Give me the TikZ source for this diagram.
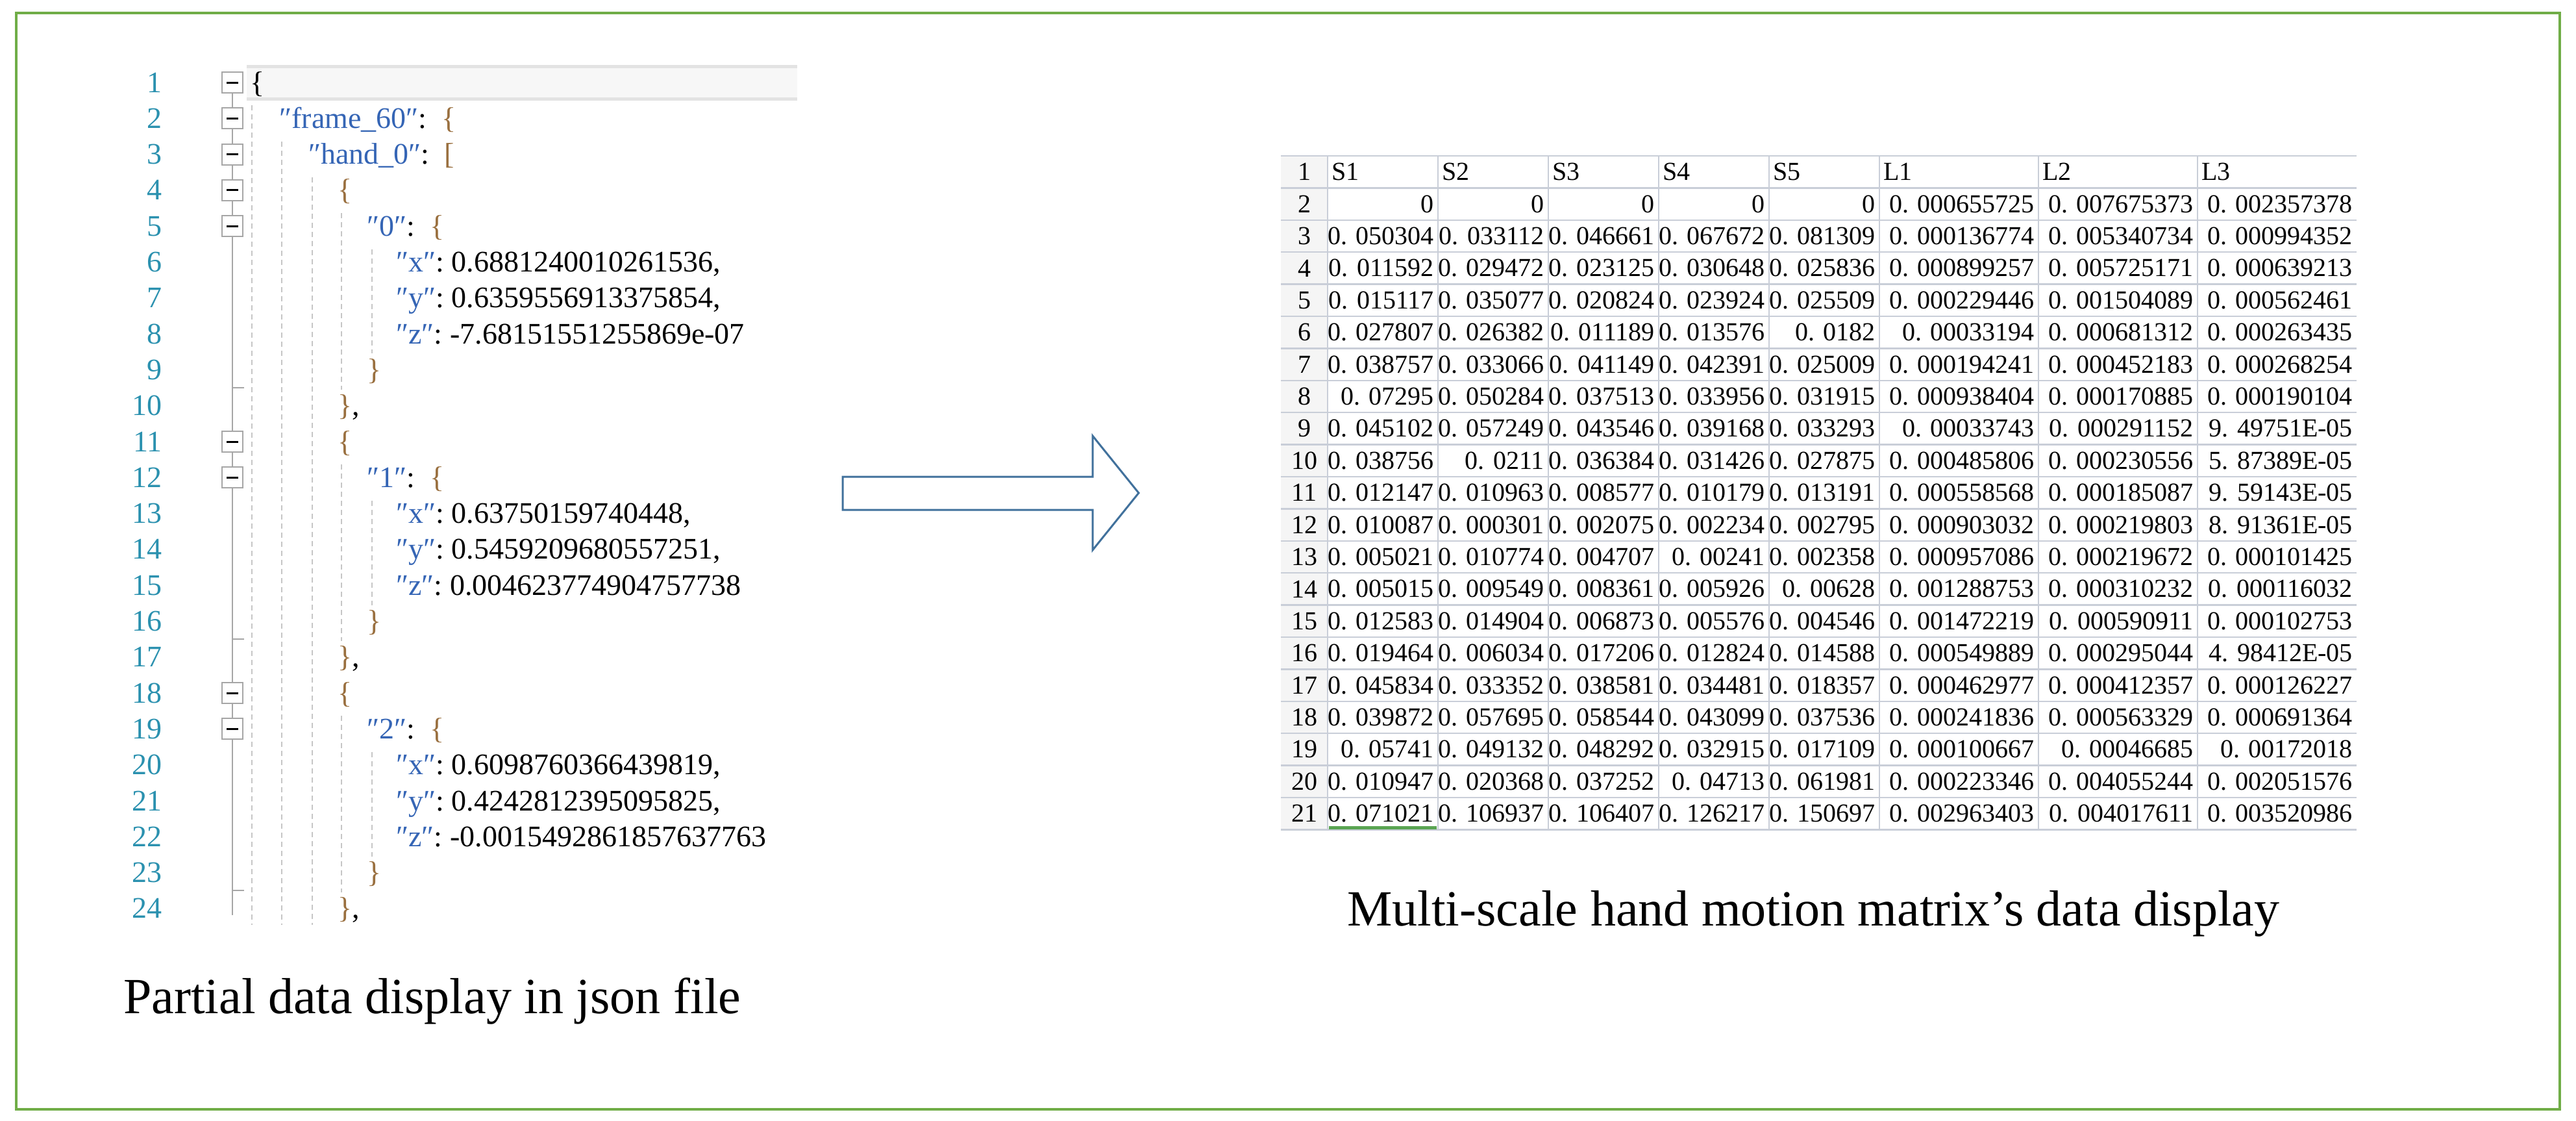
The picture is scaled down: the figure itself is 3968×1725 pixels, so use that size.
\documentclass[tikz,border=0pt]{standalone}
\usepackage{fontspec}
\setmainfont{Liberation Serif}
\definecolor{frame}{HTML}{70AD47}
\definecolor{lnum}{HTML}{2B91AF}
\definecolor{jkey}{HTML}{3565B5}
\definecolor{jbr}{HTML}{9A7040}
\definecolor{grid}{HTML}{C9CED8}
\definecolor{arr}{HTML}{41719C}
\newcommand\jf{\fontsize{46}{46}\selectfont}
\newcommand\tf{\fontsize{40}{40}\selectfont}
\newcommand\kk[1]{{\color{jkey}″#1″}}
\newcommand\bb[1]{{\color{jbr}#1}}
\begin{document}
\begin{tikzpicture}[x=1pt,y=-1pt,
  jtxt/.style={anchor=base west,inner sep=0pt,font=\jf},
  lno/.style={anchor=base east,inner sep=0pt,font=\jf,text=lnum},
  cell/.style={anchor=east,inner sep=0pt,font=\tf},
  hcell/.style={anchor=west,inner sep=0pt,font=\tf},
  captxt/.style={inner sep=0pt,font=\fontsize{78}{78}\selectfont},
  guide/.style={gray!45,dash pattern=on 8pt off 6pt,line width=2pt},
  fold/.style={draw=gray!70,line width=2pt,fill=white,minimum width=32pt,minimum height=32pt,inner sep=0pt}]
\useasboundingbox (0,0) rectangle (3968,1725);
\draw[frame,line width=4pt] (25,20) rectangle (3943,1708);
% ---------- JSON panel ----------
\fill[gray!6] (380,102) rectangle (1228,152);
\draw[gray!22,line width=5pt] (380,102) -- (1228,102) (380,152) -- (1228,152);
\def\ly#1{127+55.3*(#1-1)}
\foreach \i in {1,...,24}{\node[lno] (ln\i) at (250,{\ly{\i}+15}) {\i};}
% fold tree
\draw[gray!70,line width=2pt] (358,{\ly{1}}) -- (358,{\ly{24}+10});
\foreach \i/\e in {9/10,16/17,23/24}{\draw[gray!70,line width=2pt] (358,{\ly{\e}-28}) -- (376,{\ly{\e}-28});}
\foreach \i in {1,2,3,4,5,11,12,18,19}{\node[fold] (fb\i) at (358,{\ly{\i}}) {}; \draw[line width=3pt] (349,{\ly{\i}}) -- (367,{\ly{\i}});}
% indent guides
\draw[guide] (388,{\ly{2}-20}) -- (388,{\ly{24}+25});
\draw[guide] (434,{\ly{3}-20}) -- (434,{\ly{24}+25});
\draw[guide] (481,{\ly{4}-20}) -- (481,{\ly{24}+25});
\foreach \a/\b in {5/10,12/17,19/24}{\draw[guide] (526,{\ly{\a}-20}) -- (526,{\ly{\b}-25});}
\foreach \a/\b in {6/9,13/16,20/23}{\draw[guide] (573,{\ly{\a}-20}) -- (573,{\ly{\b}-25});}
\def\jx#1{385+45*#1}
\newcommand\jl[3]{\node[jtxt] (jl#1) at ({\jx{#2}},{\ly{#1}+15}) {#3};}
\jl{1}{0}{\{}
\jl{2}{1}{\kk{frame\_60}:\ \ \bb{\{}}
\jl{3}{2}{\kk{hand\_0}:\ \ \bb{[}}
\jl{4}{3}{\bb{\{}}
\jl{5}{4}{\kk{0}:\ \ \bb{\{}}
\jl{6}{5}{\kk{x}:\ 0.6881240010261536,}
\jl{7}{5}{\kk{y}:\ 0.6359556913375854,}
\jl{8}{5}{\kk{z}:\ -7.68151551255869e-07}
\jl{9}{4}{\bb{\}}}
\jl{10}{3}{\bb{\}},}
\jl{11}{3}{\bb{\{}}
\jl{12}{4}{\kk{1}:\ \ \bb{\{}}
\jl{13}{5}{\kk{x}:\ 0.63750159740448,}
\jl{14}{5}{\kk{y}:\ 0.5459209680557251,}
\jl{15}{5}{\kk{z}:\ 0.004623774904757738}
\jl{16}{4}{\bb{\}}}
\jl{17}{3}{\bb{\}},}
\jl{18}{3}{\bb{\{}}
\jl{19}{4}{\kk{2}:\ \ \bb{\{}}
\jl{20}{5}{\kk{x}:\ 0.6098760366439819,}
\jl{21}{5}{\kk{y}:\ 0.4242812395095825,}
\jl{22}{5}{\kk{z}:\ -0.0015492861857637763}
\jl{23}{4}{\bb{\}}}
\jl{24}{3}{\bb{\}},}
\node[captxt,anchor=base west] (capL) at (190,1560) {Partial data display in json file};
% ---------- arrow ----------
\draw[arr,line width=3pt,fill=white] (1298,734) -- (1683,734) -- (1683,671) -- (1754,759) -- (1683,847) -- (1683,785) -- (1298,785) -- cycle;
% ---------- table ----------
\def\ty#1{240+49.4*(#1-1)}
\fill[gray!8] (1973,240) rectangle (2045,1278);
\foreach \i in {1,...,22}{\draw[grid,line width=2.5pt] (1973,{\ty{\i}}) -- (3630,{\ty{\i}});}
\foreach \x in {2045,2215,2385,2555,2725,2895,3140,3385}{\draw[grid,line width=1.5pt] (\x,240) -- (\x,1278);}
\foreach \i in {1,...,21}{\node[inner sep=0pt,font=\tf] (rn\i) at (2009,{\ty{\i}+24.7}) {\i};}
\foreach \h [count=\j] in {S1,S2,S3,S4,S5,L1,L2,L3}{
  \pgfmathsetmacro\xl{{2045,2215,2385,2555,2725,2895,3140,3385}[\j-1]}
  \node[hcell] (h\j) at (\xl+6,{\ty{1}+24.7}) {\h};}
\newcommand\trow[2]{\foreach \v [count=\j] in {#2}{
  \pgfmathsetmacro\xr{{2215,2385,2555,2725,2895,3140,3385,3630}[\j-1]}
  \node[cell] (c#1-\j) at (\xr-6,{\ty{#1}+24.7}) {\v};}}
\trow{2}{0,0,0,0,0,0. 000655725,0. 007675373,0. 002357378}
\trow{3}{0. 050304,0. 033112,0. 046661,0. 067672,0. 081309,0. 000136774,0. 005340734,0. 000994352}
\trow{4}{0. 011592,0. 029472,0. 023125,0. 030648,0. 025836,0. 000899257,0. 005725171,0. 000639213}
\trow{5}{0. 015117,0. 035077,0. 020824,0. 023924,0. 025509,0. 000229446,0. 001504089,0. 000562461}
\trow{6}{0. 027807,0. 026382,0. 011189,0. 013576,0. 0182,0. 00033194,0. 000681312,0. 000263435}
\trow{7}{0. 038757,0. 033066,0. 041149,0. 042391,0. 025009,0. 000194241,0. 000452183,0. 000268254}
\trow{8}{0. 07295,0. 050284,0. 037513,0. 033956,0. 031915,0. 000938404,0. 000170885,0. 000190104}
\trow{9}{0. 045102,0. 057249,0. 043546,0. 039168,0. 033293,0. 00033743,0. 000291152,9. 49751E-05}
\trow{10}{0. 038756,0. 0211,0. 036384,0. 031426,0. 027875,0. 000485806,0. 000230556,5. 87389E-05}
\trow{11}{0. 012147,0. 010963,0. 008577,0. 010179,0. 013191,0. 000558568,0. 000185087,9. 59143E-05}
\trow{12}{0. 010087,0. 000301,0. 002075,0. 002234,0. 002795,0. 000903032,0. 000219803,8. 91361E-05}
\trow{13}{0. 005021,0. 010774,0. 004707,0. 00241,0. 002358,0. 000957086,0. 000219672,0. 000101425}
\trow{14}{0. 005015,0. 009549,0. 008361,0. 005926,0. 00628,0. 001288753,0. 000310232,0. 000116032}
\trow{15}{0. 012583,0. 014904,0. 006873,0. 005576,0. 004546,0. 001472219,0. 000590911,0. 000102753}
\trow{16}{0. 019464,0. 006034,0. 017206,0. 012824,0. 014588,0. 000549889,0. 000295044,4. 98412E-05}
\trow{17}{0. 045834,0. 033352,0. 038581,0. 034481,0. 018357,0. 000462977,0. 000412357,0. 000126227}
\trow{18}{0. 039872,0. 057695,0. 058544,0. 043099,0. 037536,0. 000241836,0. 000563329,0. 000691364}
\trow{19}{0. 05741,0. 049132,0. 048292,0. 032915,0. 017109,0. 000100667,0. 00046685,0. 00172018}
\trow{20}{0. 010947,0. 020368,0. 037252,0. 04713,0. 061981,0. 000223346,0. 004055244,0. 002051576}
\trow{21}{0. 071021,0. 106937,0. 106407,0. 126217,0. 150697,0. 002963403,0. 004017611,0. 003520986}
\draw[frame!80!teal,line width=5pt] (2047,1274) -- (2213,1274);
\node[captxt,anchor=base west] (capR) at (2075,1425) {Multi-scale hand motion matrix’s data display};
\end{tikzpicture}
\end{document}
